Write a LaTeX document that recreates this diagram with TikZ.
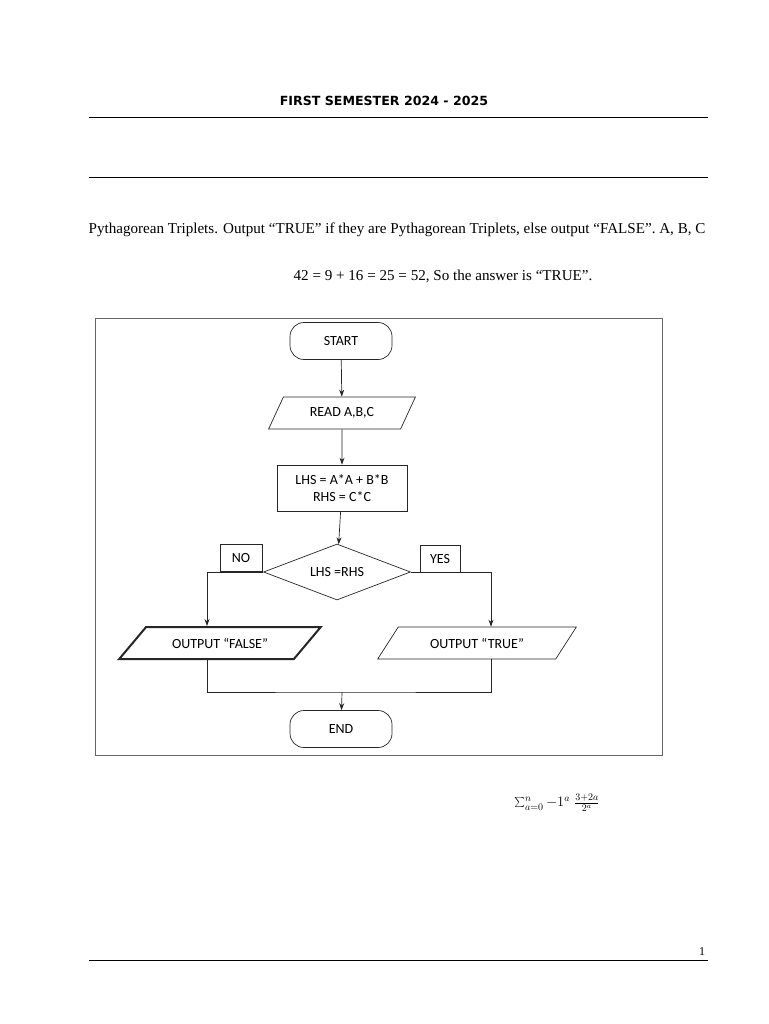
\documentclass[tikz,border=0pt]{standalone}
\usepackage{fontspec}
\setmainfont{Liberation Serif}
\newfontfamily\calibri{Carlito}
\newfontfamily\heading{DejaVu Sans}
\usetikzlibrary{shapes.geometric,arrows.meta}
\tikzset{x=1pt, y=-1pt,
  flow/.style={draw=black!85, line width=0.7pt, font=\calibri\fontsize{14}{17}\selectfont, align=center, inner sep=2pt},
  terminal/.style={flow, rounded corners=14pt, minimum width=102pt, minimum height=37pt},
  io box/.style={flow, trapezium, trapezium stretches=true, trapezium left angle=#1, trapezium right angle=180-#1, minimum height=32pt},
  process/.style={flow, rectangle, minimum width=130pt, minimum height=46pt},
  decision/.style={flow, diamond, aspect=2.6, minimum width=147pt, minimum height=56pt, inner sep=0pt},
  tag/.style={flow, rectangle, minimum height=27pt},
  flow line/.style={draw=black!85, line width=0.7pt, -{Stealth[length=7pt,width=5pt]}},
  rule line/.style={draw=black, line width=0.7pt}
}
\begin{document}
\begin{tikzpicture}
\useasboundingbox (0,0) rectangle (768,1024);
% page header and text
\node (title) at (384,101) {\heading\bfseries\fontsize{12.6}{15}\selectfont FIRST SEMESTER 2024 - 2025};
\coordinate (r1a) at (89,117); \coordinate (r1b) at (708,117);
\coordinate (r2a) at (89,177); \coordinate (r2b) at (708,177);
\draw[rule line] (r1a) -- (r1b);
\draw[rule line] (r2a) -- (r2b);
\node (task) at (397,230) {\fontsize{15.1}{17}\selectfont Pythagorean Triplets. Output “TRUE” if they are Pythagorean Triplets, else output “FALSE”. A, B, C};
\node (example) at (443,276) {\fontsize{15.1}{17}\selectfont 42 = 9 + 16 = 25 = 52, So the answer is “TRUE”.};
% flowchart
\node (frame) [draw=black!60, minimum width=567pt, minimum height=437pt, line width=1pt] at (378.5,536.5) {};
\node (start) [terminal] at (341,341) {START};
\node (read) [io box=60, minimum width=147pt] at (342,413) {READ A,B,C};
\node (calc) [process] at (342,488) {LHS = A*A + B*B\\RHS = C*C};
\node (test) [decision] at (337,572) {LHS =RHS};
\node (no) [tag, minimum width=42pt] at (241,557.5) {NO};
\node (yes) [tag, minimum width=40pt] at (440,559) {YES};
\node (false) [io box=38, minimum width=202pt, line width=2pt] at (220,643) {OUTPUT “FALSE”};
\node (true) [io box=48, minimum width=199pt] at (477,643) {OUTPUT “TRUE”};
\node (end) [terminal] at (341,729) {END};
\coordinate (nofoot) at (207,572);
\coordinate (yesfoot) at (491,572);
\coordinate (join) at (342,692);
\draw[flow line] (test.west) -- (nofoot) -- (nofoot |- false.north);
\draw[flow line] (test.east) -- (yesfoot) -- (yesfoot |- true.north);
\draw[draw=black!85, line width=0.7pt] (false.south -| nofoot) |- (join) -| (true.south -| yesfoot);
\draw[flow line] (start) -- (read);
\draw[flow line] (read) -- (calc);
\draw[flow line] (calc) -- (test);
\draw[flow line] (join) -- (end);
% formula and footer
\node (formula) at (557,803) {\fontsize{14}{17}\selectfont$\textstyle\sum_{a=0}^{n}-1^{a}\;\frac{3+2a}{2^{a}}$};
\node (page) at (702,952) {\fontsize{12}{14}\selectfont 1};
\coordinate (r3a) at (89,960); \coordinate (r3b) at (708,960);
\draw[rule line] (r3a) -- (r3b);
\end{tikzpicture}
\end{document}
